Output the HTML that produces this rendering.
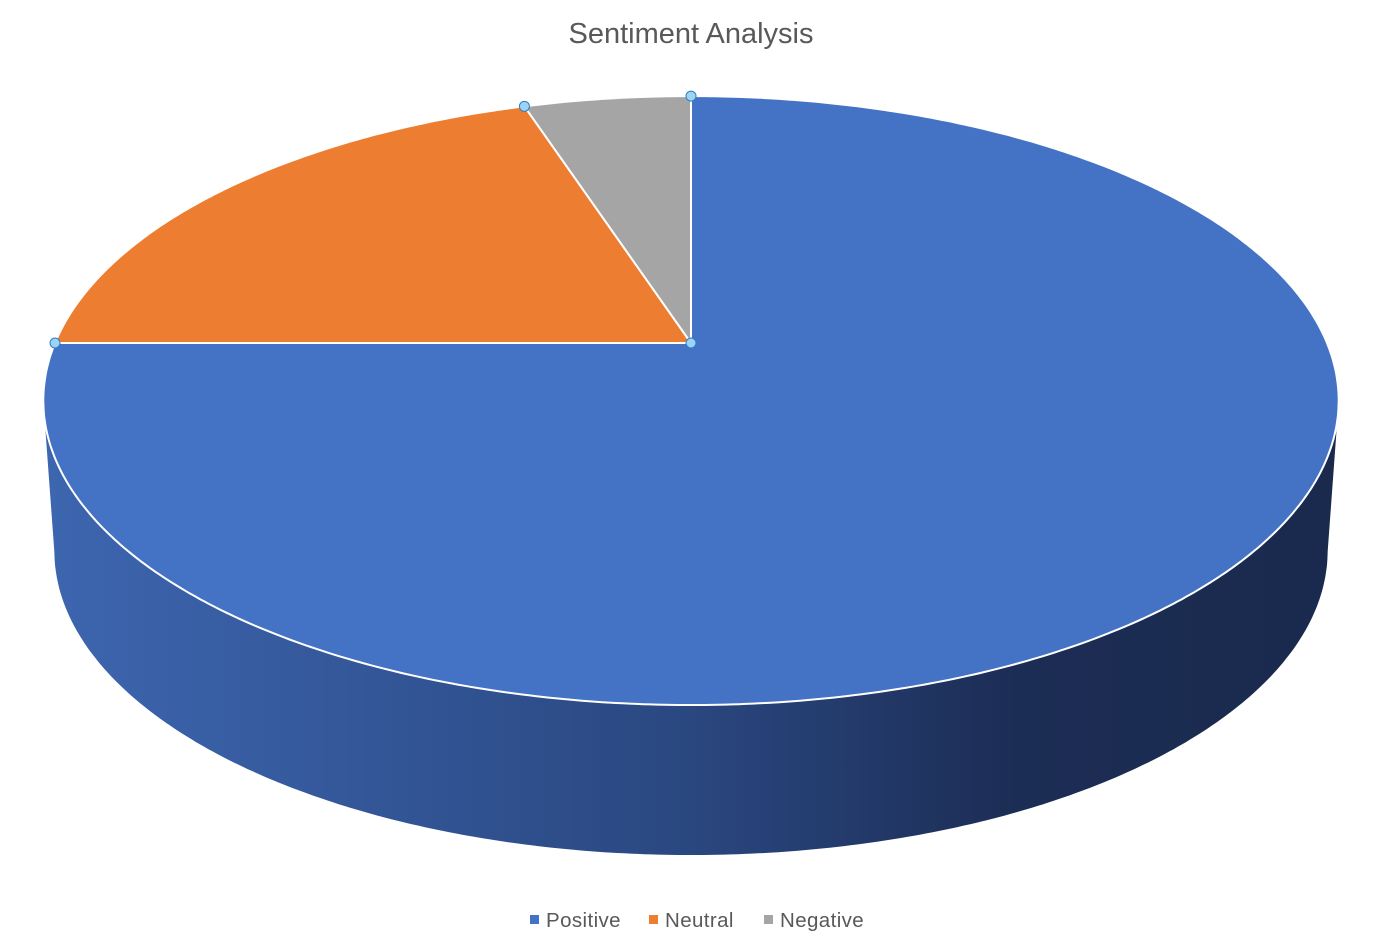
<!DOCTYPE html>
<html><head><meta charset="utf-8"><style>
body{margin:0;background:#fff;}
svg{display:block;font-family:"Liberation Sans",sans-serif;}
</style></head><body>
<svg id="chart" width="1391" height="949">
<defs>
<linearGradient id="sideGrad" x1="0" x2="1" y1="0" y2="0">
<stop offset="0" stop-color="#3d66b0"/>
<stop offset="0.5" stop-color="#2a4780"/>
<stop offset="0.75" stop-color="#1c2d55"/>
<stop offset="1" stop-color="#1a2a4d"/>
</linearGradient>
</defs>
<text x="691" y="43" text-anchor="middle" font-size="29" fill="#595959">Sentiment Analysis</text>
<g id="pie"></g>
<g id="legend"></g>
</svg>
<script>
const categories = ["Positive","Neutral","Negative"];
const values = [75, 20, 5];
const colors = ["#4472c4","#ed7d31","#a5a5a5"];

const NS="http://www.w3.org/2000/svg";
const cx=691, cy=343, R=636, A=293.6, K=-0.189, DEPTH=150, BSCALE=0.983;
function proj(th){
  const r=th*Math.PI/180, u=Math.sin(r), v=-Math.cos(r);
  const d=1+K*v;
  return [cx+R*u/d, cy+A*v/d];
}
const pie=document.getElementById('pie');
const outline=[];for(let t=0;t<=360;t+=0.5)outline.push(proj(t));
let iL=0,iR=0;outline.forEach((p,i)=>{if(p[0]<outline[iL][0])iL=i;if(p[0]>outline[iR][0])iR=i;});
const front=[];for(let i=iR;i<=iL;i++)front.push(outline[i]);
let sd="M"+front.map(p=>p[0].toFixed(1)+","+p[1].toFixed(1)).join(" L");
sd+=" L"+front.slice().reverse().map(p=>(cx+(p[0]-cx)*BSCALE).toFixed(1)+","+(p[1]+DEPTH).toFixed(1)).join(" L")+" Z";
const side=document.createElementNS(NS,'path');
side.setAttribute('d',sd);side.setAttribute('fill','url(#sideGrad)');


pie.appendChild(side);
const total=values.reduce((a,b)=>a+b,0);
let start=0;const handles=[[cx,cy]];
values.forEach((v,i)=>{
  const span=v/total*360, end=start+span;
  let d="M"+cx+","+cy;
  for(let t=start;t<=end+0.001;t+=Math.min(0.5,span)){const p=proj(t);d+=" L"+p[0].toFixed(1)+","+p[1].toFixed(1);}
  const pe=proj(end);d+=" L"+pe[0].toFixed(1)+","+pe[1].toFixed(1)+" Z";
  const s=document.createElementNS(NS,'path');
  s.setAttribute('d',d);s.setAttribute('fill',colors[i]);s.setAttribute('stroke','#fff');s.setAttribute('stroke-width','2');s.setAttribute('stroke-linejoin','round');
  
  
  pie.appendChild(s);
  handles.push(proj(start));
  start=end;
});
handles.forEach(p=>{
  const c=document.createElementNS(NS,'circle');
  c.setAttribute('cx',p[0]);c.setAttribute('cy',p[1]);c.setAttribute('r','5');
  c.setAttribute('fill','#9dd3f5');c.setAttribute('stroke','#2c7fc0');c.setAttribute('stroke-width','1');
  
  
  pie.appendChild(c);
});
const lg=document.getElementById('legend');
const lx=[530,649,764];
categories.forEach((c,i)=>{
  const g=document.createElementNS(NS,'g');
  
  
  const r=document.createElementNS(NS,'rect');
  r.setAttribute('x',lx[i]);r.setAttribute('y',915);r.setAttribute('width',9);r.setAttribute('height',9);r.setAttribute('fill',colors[i]);
  const t=document.createElementNS(NS,'text');
  t.setAttribute('x',lx[i]+16);t.setAttribute('y',927);t.setAttribute('font-size','20.5');t.setAttribute('fill','#595959');t.setAttribute('letter-spacing','0.4');
  t.textContent=c;
  g.appendChild(r);g.appendChild(t);lg.appendChild(g);
});
</script>
</body></html>
